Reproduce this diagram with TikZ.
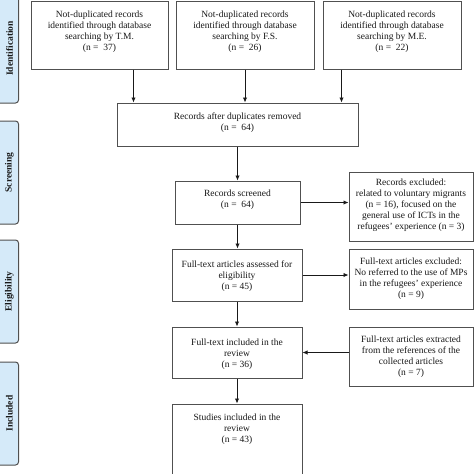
\documentclass[tikz,border=0pt]{standalone}
\usepackage{fontspec}
\setmainfont{Liberation Serif}
\usetikzlibrary{arrows.meta,calc}
\definecolor{lblue}{HTML}{D5EAF9}
\definecolor{bord}{HTML}{505050}
\begin{document}
\begin{tikzpicture}[x=1pt,y=-1pt,
  box/.style={draw=bord,line width=1pt,rectangle,inner sep=0pt,fill=white},
  txt/.style={inner sep=0pt,align=center,font=\fontsize{9.5}{11}\selectfont,text=black!90},
  side/.style={draw=bord,line width=1pt,fill=lblue,rounded corners=3pt},
  sidetxt/.style={rotate=90,font=\fontsize{9.5}{11}\selectfont\bfseries,text=black!90},
  arr/.style={draw=black!90,line width=0.9pt,-{Latex[length=5pt,width=4.5pt]}}]
\useasboundingbox (0,0) rectangle (474,474);
\fill[white] (0,0) rectangle (474,474);
% side labels
\foreach \ya/\yb/\lab/\nm in {-6/103/Identification/sId, 121/224/Screening/sSc, 240/343/Eligibility/sEl, 362/465/Included/sIn}{
  \draw[side] (-4,\ya) rectangle (18.5,\yb);
  \node[sidetxt] (\nm) at (9.5,{(\ya+\yb)/2}) {\lab};
}
% boxes (x1,y1)-(x2,y2)
\newcommand{\mkbox}[5]{\node[box,minimum width={#4-#2},minimum height={#5-#3}] (#1) at ({(#2+#4)/2},{(#3+#5)/2}) {};}
\mkbox{b1}{31}{1}{168}{69}
\mkbox{b2}{176}{1}{314}{69}
\mkbox{b3}{323}{1}{461}{69}
\mkbox{dup}{117}{103}{358}{146}
\mkbox{scr}{175}{181}{300}{224}
\mkbox{exa}{349}{172}{473}{241}
\mkbox{eli}{172}{249}{302}{301}
\mkbox{exb}{349}{249}{473}{309}
\mkbox{inc}{172}{327}{302}{378}
\mkbox{ext}{349}{327}{473}{386}
\mkbox{stu}{172}{404}{302}{480}
% texts
\node[txt,anchor=north] (t1) at ([yshift=-10pt]b1.north) {Not-duplicated records\\identified through database\\searching by T.M.\\(n =\ \ 37)};
\node[txt,anchor=north] (t2) at ([yshift=-10pt]b2.north) {Not-duplicated records\\identified through database\\searching by F.S.\\(n =\ \ 26)};
\node[txt,anchor=north] (t3) at ([yshift=-10pt]b3.north) {Not-duplicated records\\identified through database\\searching by M.E.\\(n =\ \ 22)};
\node[txt,anchor=north] (tdup) at ([yshift=-10pt]dup.north) {Records after duplicates removed\\(n =\ \ 64)};
\node[txt,anchor=north] (tscr) at ([yshift=-9pt]scr.north) {Records screened\\(n =\ \ 64)};
\node[txt] (texa) at ([yshift=1.5pt]exa.center) {Records excluded:\\related to voluntary migrants\\(n = 16), focused on the\\general use of ICTs in the\\refugees' experience (n = 3)};
\node[txt] (teli) at ([yshift=-1pt]eli.center) {Full-text articles assessed for\\eligibility\\(n = 45)};
\node[txt] (texb) at (exb.center) {Full-text articles excluded:\\No referred to the use of MPs\\in the refugees' experience\\(n = 9)};
\node[txt] (tinc) at ([yshift=-1.5pt]inc.center) {Full-text included in the\\review\\(n = 36)};
\node[txt] (text) at (ext.center) {Full-text articles extracted\\from the references of the\\collected articles\\(n = 7)};
\node[txt,anchor=north] (tstu) at ([yshift=-10pt]stu.north) {Studies included in the\\review\\(n = 43)};
% arrows
\draw[arr] ([xshift=17pt]dup.north west |- b1.south) -- ([xshift=17pt]dup.north west);
\draw[arr] (b2.south) -- (b2.south |- dup.north);
\draw[arr] ([xshift=-17pt]dup.north east |- b3.south) -- ([xshift=-17pt]dup.north east);
\draw[arr] (dup.south) -- (dup.south |- scr.north);
\draw[arr] (scr.south) -- (scr.south |- eli.north);
\draw[arr] (eli.south) -- (eli.south |- inc.north);
\draw[arr] (inc.south) -- (inc.south |- stu.north);
\draw[arr] (scr.east) -- (scr.east -| exa.west);
\draw[arr] (eli.east) -- (eli.east -| exb.west);
\draw[arr] (ext.west |- inc.east) -- (inc.east);
\end{tikzpicture}
\end{document}
